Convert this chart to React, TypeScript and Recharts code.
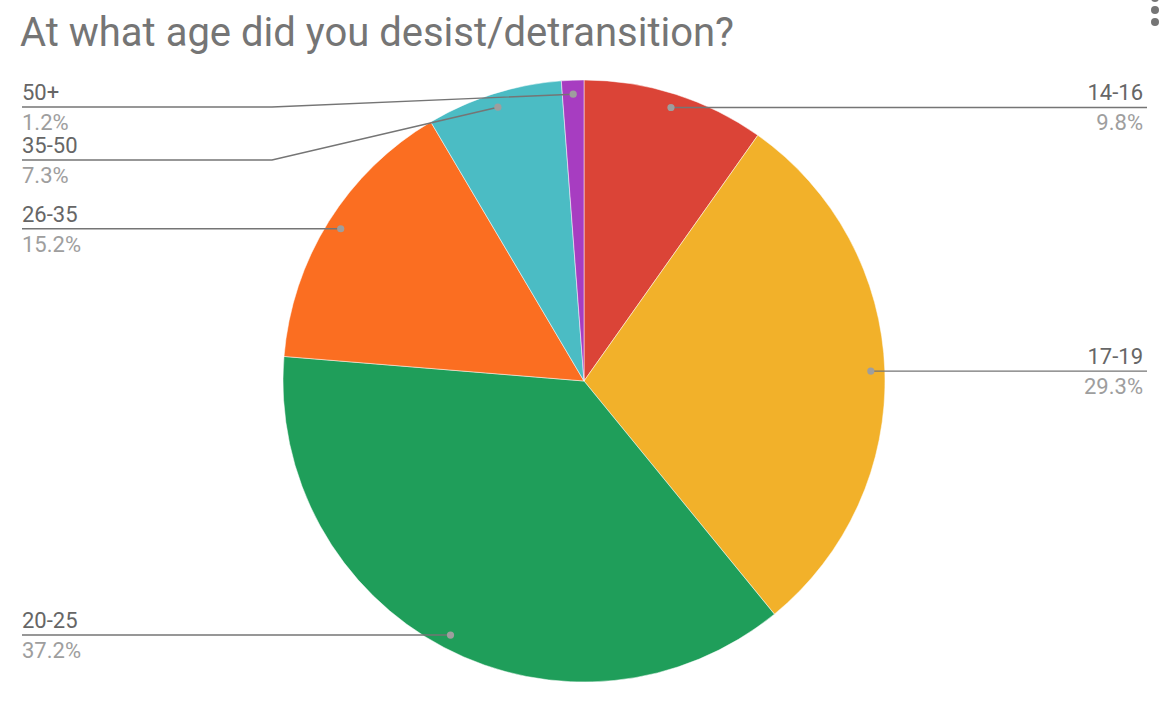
import { PieChart, Pie, Cell } from 'recharts'

// age groups and share of respondents (%)
const ages = ['14-16', '17-19', '20-25', '26-35', '35-50', '50+']
const shares = [9.8, 29.3, 37.2, 15.2, 7.3, 1.2]
const colors = ['#DB4437', '#F2B12A', '#1F9E5A', '#FB6E21', '#4BBCC4', '#A73DC1']

const data = ages.map((name, i) => ({ name, value: shares[i] }))

const W = 1174
const H = 712
const CX = 584
const CY = 381
const R = 301
const DOT_INSET = 14
const LEFT_X = 22
const RIGHT_X = 1147
const RIGHT_TEXT_X = 1143
const LABEL_TOP = 107
const LABEL_GAP = 53
const RAD = Math.PI / 180

// label layout: work out where each label line sits so they don't collide
const total = shares.reduce((a, b) => a + b, 0)
const layout = (() => {
    let acc = 0
    const items = shares.map((v, i) => {
        const mid = 90 - ((acc + v / 2) / total) * 360
        acc += v
        const r = R - DOT_INSET
        const dx = CX + r * Math.cos(mid * RAD)
        const dy = CY - r * Math.sin(mid * RAD)
        return { i, dx, dy, right: Math.cos(mid * RAD) >= 0, y: dy }
    })
    for (const side of [true, false]) {
        const list = items.filter((it) => it.right === side).sort((a, b) => a.dy - b.dy)
        let prev = -Infinity
        list.forEach((it) => {
            it.y = Math.max(it.dy, LABEL_TOP, prev + LABEL_GAP)
            prev = it.y
        })
    }
    return items
})()

const renderLabel = (props: any) => {
    const { cx, cy, midAngle, outerRadius, index, name, value } = props
    const r = outerRadius - DOT_INSET
    const x = cx + r * Math.cos(-midAngle * RAD)
    const y = cy + r * Math.sin(-midAngle * RAD)
    const lay = layout[index]
    const ly = lay.y
    const endX = lay.right ? RIGHT_X : LEFT_X
    const textX = lay.right ? RIGHT_TEXT_X : LEFT_X
    const bendX = lay.right ? cx + outerRadius + 11 : cx - outerRadius - 11
    const pts =
        Math.abs(ly - y) < 1
            ? `${x},${ly} ${endX},${ly}`
            : `${x},${y} ${bendX},${ly} ${endX},${ly}`
    const anchor = lay.right ? 'end' : 'start'
    return (
        <g key={`lbl-${index}`}>
            <polyline points={pts} fill="none" stroke="#757575" strokeWidth={1.4} />
            <circle cx={x} cy={y} r={3.6} fill="#9e9e9e" />
            <text x={textX} y={ly - 7} textAnchor={anchor} fontSize={22} fill="#666666" fontFamily="Roboto">
                {name}
            </text>
            <text x={textX} y={ly + 23} textAnchor={anchor} fontSize={22} fill="#9e9e9e" fontFamily="Roboto">
                {value.toFixed(1)}%
            </text>
        </g>
    )
}

export default function App() {
    return (
        <div style={{ position: 'absolute', left: 0, top: 0, width: W, height: H, background: '#fff', fontFamily: 'Roboto' }}>
            <PieChart width={W} height={H} margin={{ top: 0, right: 0, bottom: 0, left: 0 }}>
                <Pie
                    data={data}
                    dataKey="value"
                    nameKey="name"
                    cx={CX}
                    cy={CY}
                    outerRadius={R}
                    startAngle={90}
                    endAngle={-270}
                    stroke="#ffffff"
                    strokeWidth={0.5}
                    label={renderLabel}
                    labelLine={false}
                    isAnimationActive={false}
                >
                    {data.map((d, i) => (
                        <Cell key={d.name} fill={colors[i]} />
                    ))}
                </Pie>
            </PieChart>
            <svg width={W} height={H} style={{ position: 'absolute', left: 0, top: 0, pointerEvents: 'none' }}>
                <text x={20} y={46} fontSize={40} fill="#757575" fontFamily="Roboto">
                    At what age did you desist/detransition?
                </text>
                <circle cx={1155} cy={-2} r={4} fill="#757575" />
                <circle cx={1155} cy={10} r={4} fill="#757575" />
                <circle cx={1155} cy={22} r={4} fill="#757575" />
            </svg>
        </div>
    )
}
